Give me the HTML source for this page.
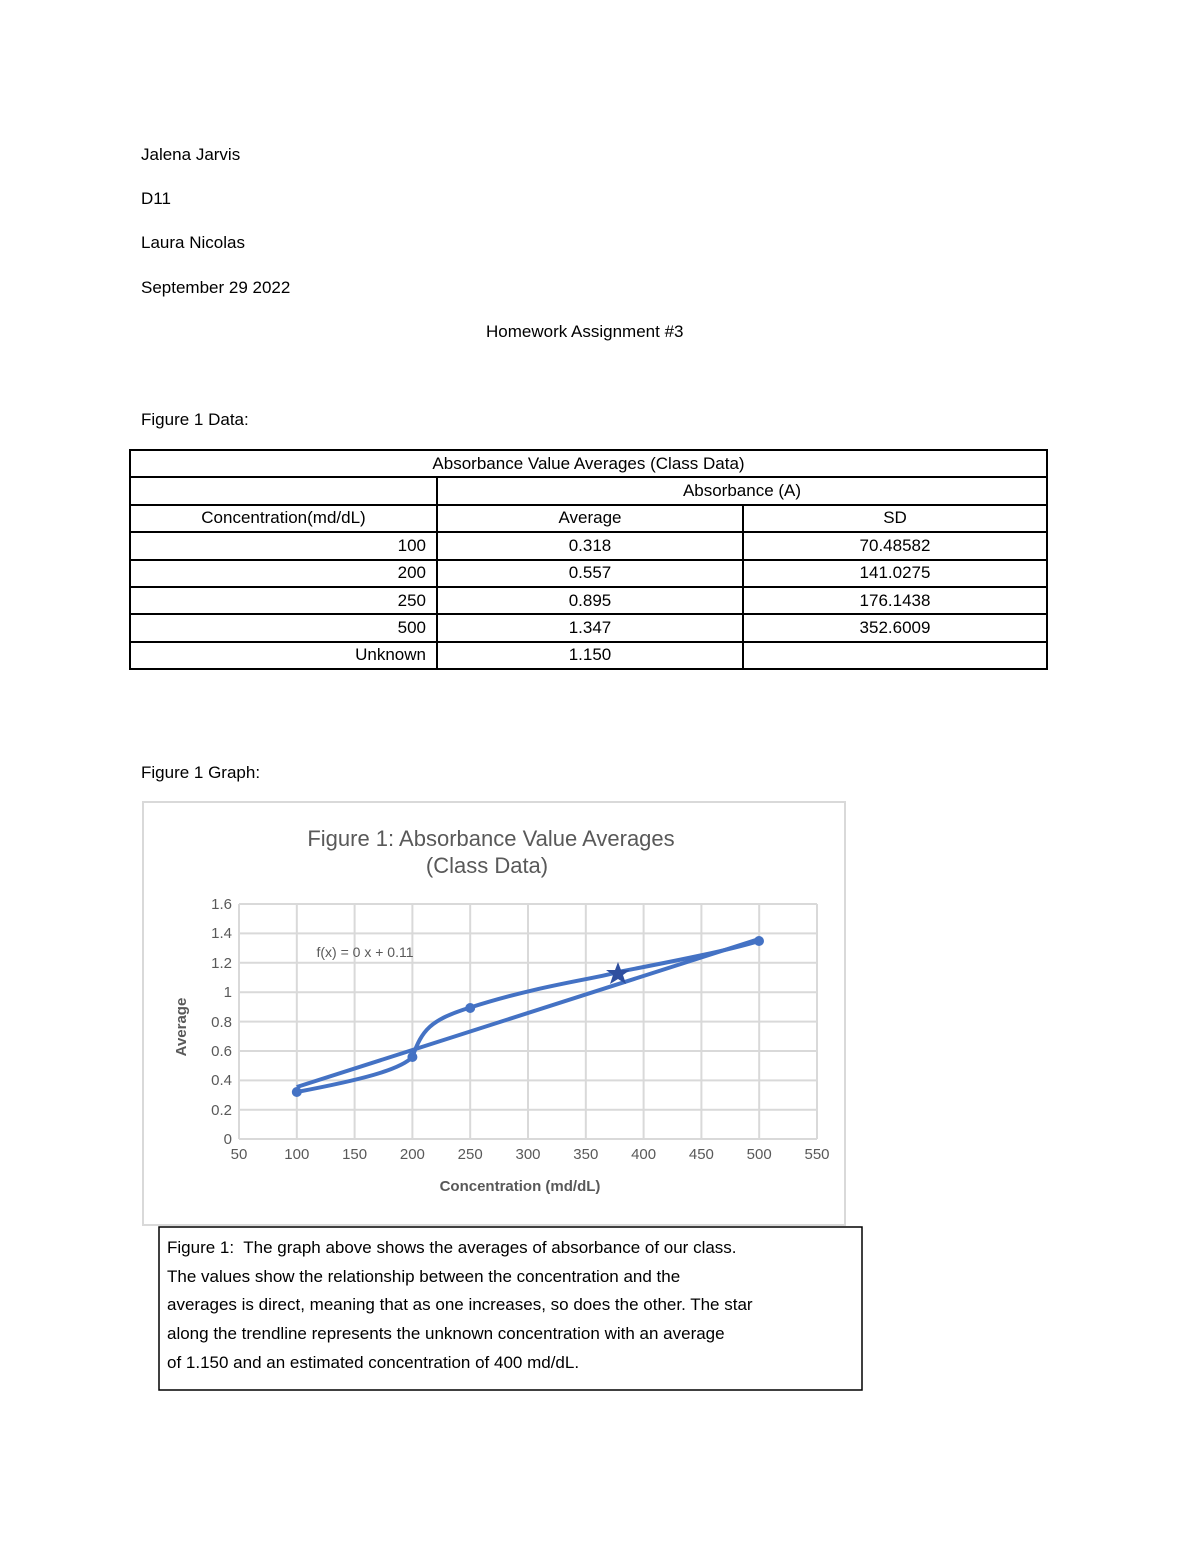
<!DOCTYPE html>
<html><head><meta charset="utf-8">
<style>
body{margin:0;background:#fff;font-family:"Liberation Sans",sans-serif;color:#000}
.p{position:absolute;width:1200px;height:1553px;left:0;top:0;overflow:hidden}
.t{position:absolute;font-size:17px;white-space:nowrap}
table{position:absolute;left:129px;top:449px;width:919px;height:221px;border-collapse:collapse;font-size:17px}
tr{height:27.4px}
td{border:2px solid #000;padding:0 10px;text-align:center}
td.r{text-align:right}
</style></head><body><div class="p">
<div class="t" style="left:141px;top:145px">Jalena Jarvis</div>
<div class="t" style="left:141px;top:189px">D11</div>
<div class="t" style="left:141px;top:233px">Laura Nicolas</div>
<div class="t" style="left:141px;top:278px">September 29 2022</div>
<div class="t" style="left:486px;top:322px">Homework Assignment #3</div>
<div class="t" style="left:141px;top:410px">Figure 1 Data:</div>
<table>
<tr><td colspan="3">Absorbance Value Averages (Class Data)</td></tr>
<tr><td style="width:285px"></td><td colspan="2">Absorbance (A)</td></tr>
<tr><td>Concentration(md/dL)</td><td style="width:284px">Average</td><td>SD</td></tr>
<tr><td class="r">100</td><td>0.318</td><td>70.48582</td></tr>
<tr><td class="r">200</td><td>0.557</td><td>141.0275</td></tr>
<tr><td class="r">250</td><td>0.895</td><td>176.1438</td></tr>
<tr><td class="r">500</td><td>1.347</td><td>352.6009</td></tr>
<tr><td class="r">Unknown</td><td>1.150</td><td></td></tr>
</table>
<div class="t" style="left:141px;top:763px">Figure 1 Graph:</div>
<svg style="position:absolute;left:0;top:0" width="1200" height="1553">
<rect x="143" y="802" width="702" height="423" fill="#fff" stroke="#d9d9d9" stroke-width="2"/>
<g font-family="Liberation Sans,sans-serif" fill="#595959">
<text x="491" y="846" font-size="22" text-anchor="middle">Figure 1: Absorbance Value Averages</text>
<text x="487" y="873" font-size="22" text-anchor="middle">(Class Data)</text>
</g>
<g stroke="#d9d9d9" stroke-width="2">
<line x1="239" y1="904" x2="817" y2="904"/><line x1="239" y1="933.4" x2="817" y2="933.4"/><line x1="239" y1="962.8" x2="817" y2="962.8"/><line x1="239" y1="992.2" x2="817" y2="992.2"/><line x1="239" y1="1021.6" x2="817" y2="1021.6"/><line x1="239" y1="1051" x2="817" y2="1051"/><line x1="239" y1="1080.4" x2="817" y2="1080.4"/><line x1="239" y1="1109.8" x2="817" y2="1109.8"/><line x1="239" y1="1139" x2="817" y2="1139"/>
<line x1="239" y1="904" x2="239" y2="1139"/><line x1="296.8" y1="904" x2="296.8" y2="1139"/><line x1="354.6" y1="904" x2="354.6" y2="1139"/><line x1="412.4" y1="904" x2="412.4" y2="1139"/><line x1="470.2" y1="904" x2="470.2" y2="1139"/><line x1="528" y1="904" x2="528" y2="1139"/><line x1="585.8" y1="904" x2="585.8" y2="1139"/><line x1="643.6" y1="904" x2="643.6" y2="1139"/><line x1="701.4" y1="904" x2="701.4" y2="1139"/><line x1="759.2" y1="904" x2="759.2" y2="1139"/><line x1="817" y1="904" x2="817" y2="1139"/>
</g>
<g font-family="Liberation Sans,sans-serif" font-size="15" fill="#595959" text-anchor="end">
<text x="232" y="909">1.6</text><text x="232" y="938">1.4</text><text x="232" y="968">1.2</text><text x="232" y="997">1</text><text x="232" y="1027">0.8</text><text x="232" y="1056">0.6</text><text x="232" y="1085">0.4</text><text x="232" y="1115">0.2</text><text x="232" y="1144">0</text>
</g>
<g font-family="Liberation Sans,sans-serif" font-size="15" fill="#595959" text-anchor="middle">
<text x="239" y="1159">50</text><text x="296.8" y="1159">100</text><text x="354.6" y="1159">150</text><text x="412.4" y="1159">200</text><text x="470.2" y="1159">250</text><text x="528" y="1159">300</text><text x="585.8" y="1159">350</text><text x="643.6" y="1159">400</text><text x="701.4" y="1159">450</text><text x="759.2" y="1159">500</text><text x="817" y="1159">550</text>
<text x="520" y="1191" font-size="15" font-weight="bold">Concentration (md/dL)</text>
<text transform="translate(186,1027) rotate(-90)" font-size="15" font-weight="bold">Average</text>
<text x="365" y="957" font-size="14">f(x) = 0 x + 0.11</text>
</g>
<g fill="none" stroke="#4472c4" stroke-width="4">
<line x1="296.8" y1="1087" x2="759" y2="939"/>
<path d="M296.8,1092 C360,1080 400,1070 412.4,1057 C422,1030 430,1020 470.2,1007.5 C540,985 600,978 618,972 C680,960 730,950 759,941"/>
</g>
<g fill="#4472c4">
<circle cx="296.8" cy="1092" r="5"/><circle cx="412.4" cy="1057" r="5"/><circle cx="470.2" cy="1008" r="5"/><circle cx="759" cy="941" r="5"/>
</g>
<polygon points="618,962 621,970 630,970 623,975 626,984 618,979 610,984 613,975 606,970 615,970" fill="#2f4f9f"/>
<rect x="159" y="1227" width="703" height="163" fill="none" stroke="#000" stroke-width="1.5"/>
</svg>
<div class="t" style="left:167px;top:1234px;line-height:28.7px">Figure 1:&nbsp; The graph above shows the averages of absorbance of our class.<br>The values show the relationship between the concentration and the<br>averages is direct, meaning that as one increases, so does the other. The star<br>along the trendline represents the unknown concentration with an average<br>of 1.150 and an estimated concentration of 400 md/dL.</div>
</div></body></html>
